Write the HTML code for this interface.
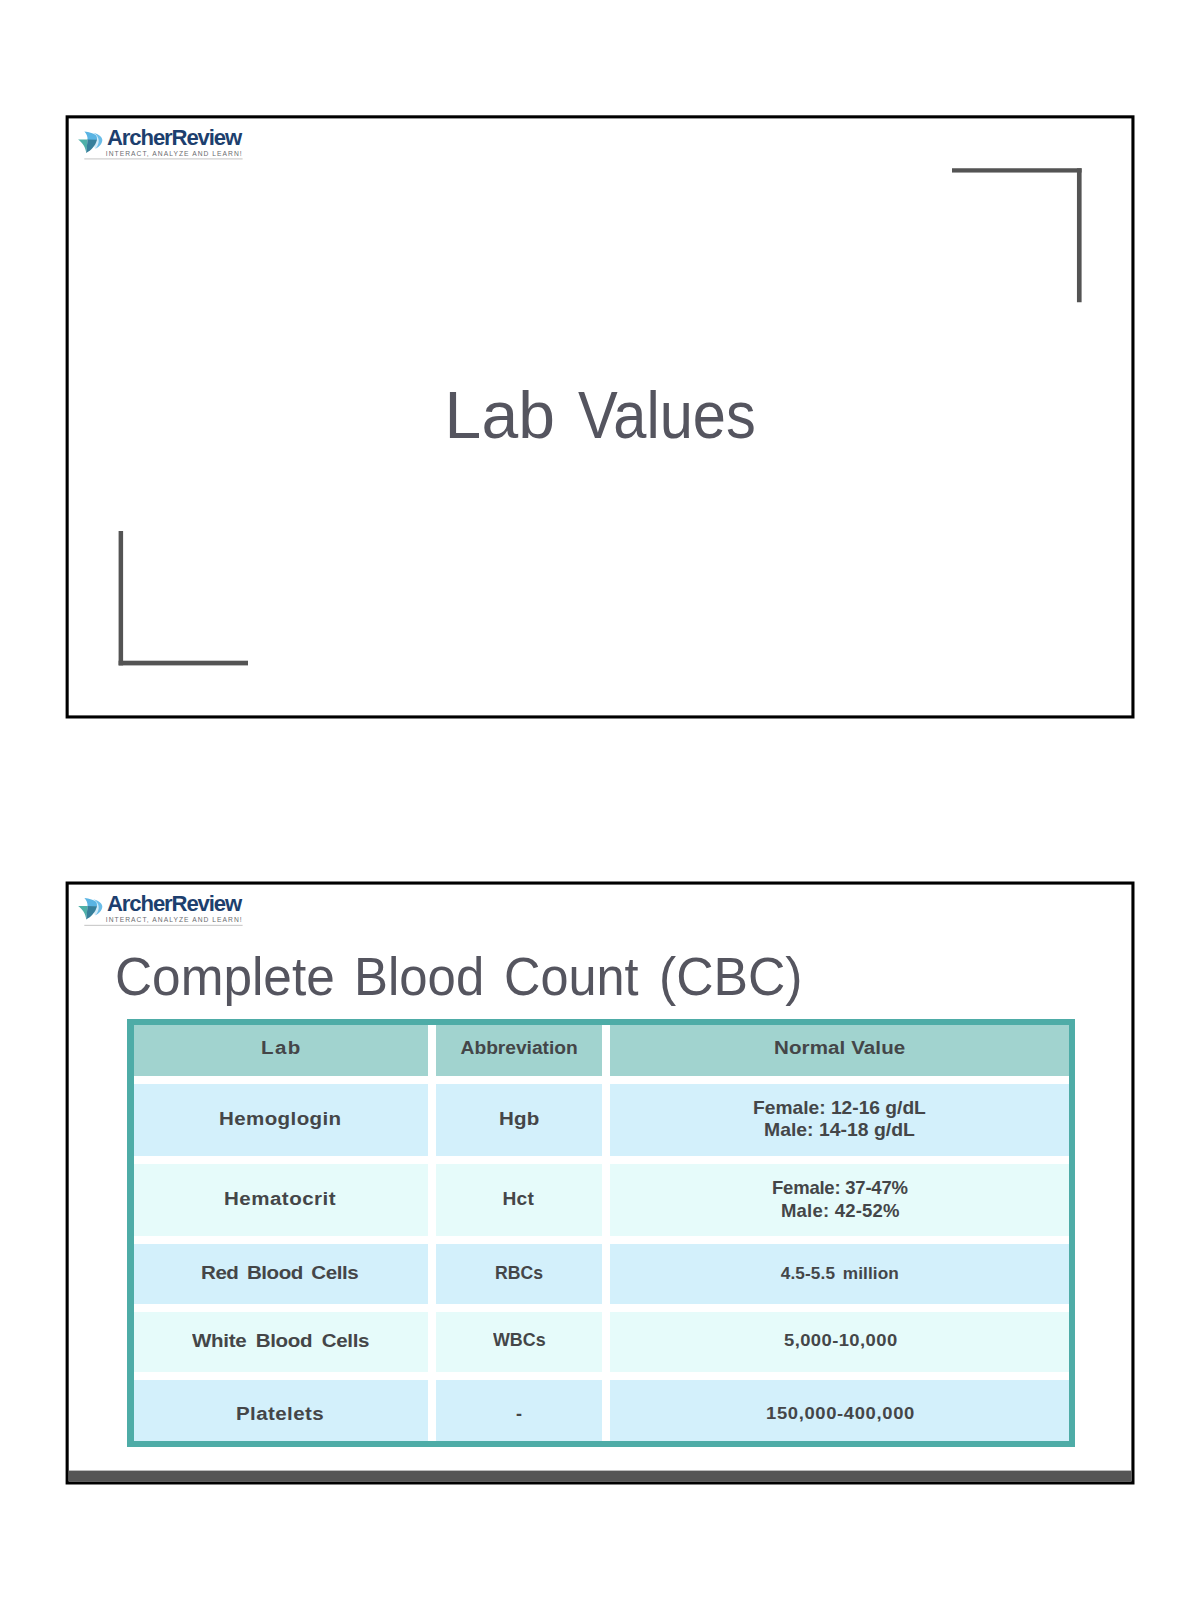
<!DOCTYPE html>
<html lang="en">
<head>
<meta charset="utf-8">
<title>Lab Values</title>
<style>
html,body{margin:0;padding:0;background:#fff}
body{width:1200px;height:1600px;position:relative;overflow:hidden;font-family:"Liberation Sans",sans-serif}
#sheet{position:absolute;left:0;top:0;width:1200px;height:1600px}
#art{position:absolute;left:0;top:0;width:1200px;height:1600px}
.g{margin:0;padding:0;font-size:0;line-height:0;font-weight:400}
.t{position:absolute;white-space:pre;line-height:1;margin:0;padding:0;display:block;transform-origin:0 0}
#tbl{position:absolute;left:127px;top:1019px;width:948px;height:428px;box-sizing:border-box;border:6px solid #4eaca7;border-left-width:7px;background:#fff;
display:grid;grid-template-columns:294px 166px 459px;grid-template-rows:51px 72px 72px 60px 60px 61px;gap:8px}
#tbl div{background:#d3f0fb}
#tbl div.h{background:#a1d3cf}
#tbl div.e{background:#e6fbfa}
#t1w0{left:444.60px;top:381.94px;font-size:65.99px;font-weight:400;color:#55555f;letter-spacing:0.103px;word-spacing:0.000px}
#t1w1{left:577.50px;top:381.94px;font-size:65.99px;font-weight:400;color:#55555f;letter-spacing:0.000px;word-spacing:0.000px;transform:scaleX(0.9032)}
#t2w0{left:115.06px;top:951.21px;font-size:52.91px;font-weight:400;color:#55555f;letter-spacing:0.000px;word-spacing:0.000px;transform:scaleX(0.9704)}
#t2w1{left:354.15px;top:951.21px;font-size:52.91px;font-weight:400;color:#55555f;letter-spacing:0.000px;word-spacing:0.000px;transform:scaleX(0.9621)}
#t2w2{left:504.09px;top:951.21px;font-size:52.91px;font-weight:400;color:#55555f;letter-spacing:0.000px;word-spacing:0.000px;transform:scaleX(0.9535)}
#t2w3{left:659.07px;top:951.21px;font-size:52.91px;font-weight:400;color:#55555f;letter-spacing:0.000px;word-spacing:0.000px;transform:scaleX(0.9765)}
#h1{left:126.63px;top:13.15px;font-size:19.20px;font-weight:700;color:#444648;letter-spacing:1.328px;word-spacing:0.000px;transform:scaleX(1.0700)}
#h2{left:326.60px;top:13.15px;font-size:19.20px;font-weight:700;color:#444648;letter-spacing:-0.014px;word-spacing:0.000px}
#h3{left:639.93px;top:12.95px;font-size:19.20px;font-weight:700;color:#444648;letter-spacing:0.097px;word-spacing:0.000px;transform:scaleX(1.0700)}
#a1{left:84.93px;top:84.25px;font-size:19.20px;font-weight:700;color:#444648;letter-spacing:0.366px;word-spacing:0.000px;transform:scaleX(1.0700)}
#a2{left:89.63px;top:164.05px;font-size:19.20px;font-weight:700;color:#444648;letter-spacing:0.444px;word-spacing:0.000px;transform:scaleX(1.0700)}
#a3{left:67.43px;top:238.45px;font-size:19.20px;font-weight:700;color:#444648;letter-spacing:-0.421px;word-spacing:3.030px;transform:scaleX(1.0700)}
#a4{left:58.00px;top:306.45px;font-size:19.20px;font-weight:700;color:#444648;letter-spacing:-0.303px;word-spacing:3.786px;transform:scaleX(1.0700)}
#a5{left:102.43px;top:378.75px;font-size:19.20px;font-weight:700;color:#444648;letter-spacing:0.367px;word-spacing:0.000px;transform:scaleX(1.0700)}
#b1{left:364.93px;top:84.05px;font-size:19.20px;font-weight:700;color:#444648;letter-spacing:0.155px;word-spacing:0.000px;transform:scaleX(1.0700)}
#b2{left:368.60px;top:164.05px;font-size:19.20px;font-weight:700;color:#444648;letter-spacing:0.136px;word-spacing:0.000px}
#b3{left:361.08px;top:237.55px;font-size:19.20px;font-weight:700;color:#444648;letter-spacing:0.000px;word-spacing:0.000px;transform:scaleX(0.9175)}
#b4{left:359.40px;top:305.15px;font-size:19.20px;font-weight:700;color:#444648;letter-spacing:0.000px;word-spacing:0.000px;transform:scaleX(0.9315)}
#b5{left:382.00px;top:379.76px;font-size:18.00px;font-weight:700;color:#444648;letter-spacing:0.000px;word-spacing:0.000px}
#c1a{left:619.46px;top:74.09px;font-size:18.50px;font-weight:700;color:#444648;letter-spacing:0.000px;word-spacing:0.000px;transform:scaleX(1.0378)}
#c1b{left:630.45px;top:95.64px;font-size:18.50px;font-weight:700;color:#444648;letter-spacing:0.000px;word-spacing:0.000px;transform:scaleX(1.0482)}
#c2a{left:638.00px;top:154.09px;font-size:18.50px;font-weight:700;color:#444648;letter-spacing:-0.221px;word-spacing:0.000px}
#c2b{left:647.00px;top:177.34px;font-size:18.50px;font-weight:700;color:#444648;letter-spacing:0.205px;word-spacing:0.000px}
#c3{left:646.80px;top:240.14px;font-size:17.20px;font-weight:700;color:#444648;letter-spacing:0.114px;word-spacing:2.738px}
#c4{left:649.70px;top:306.74px;font-size:17.20px;font-weight:700;color:#444648;letter-spacing:0.400px;word-spacing:0.000px;transform:scaleX(1.0700)}
#c5{left:631.63px;top:380.44px;font-size:17.20px;font-weight:700;color:#444648;letter-spacing:0.613px;word-spacing:0.000px;transform:scaleX(1.0700)}
#lg1{left:107.20px;top:125.58px;font-size:22.82px;font-weight:700;color:#1d3f6e;letter-spacing:-1.166px;word-spacing:0.000px;transform:scaleX(0.9700)}
#tg1{left:105.80px;top:150.94px;font-size:6.69px;font-weight:400;color:#6a6c70;letter-spacing:1.047px;word-spacing:0.000px}
#lg2{left:107.20px;top:892.08px;font-size:22.82px;font-weight:700;color:#1d3f6e;letter-spacing:-1.166px;word-spacing:0.000px;transform:scaleX(0.9700)}
#tg2{left:105.80px;top:917.44px;font-size:6.69px;font-weight:400;color:#6a6c70;letter-spacing:1.047px;word-spacing:0.000px}
</style>
</head>
<body>
<main id="sheet">
<svg id="art" viewBox="0 0 1200 1600">
<rect x="67.15" y="116.85" width="1065.8" height="600.1" fill="#fff" stroke="#000" stroke-width="3.1"/>
<rect x="952" y="168.25" width="129.6" height="4.3" fill="#545454"/>
<rect x="1076.95" y="168.25" width="4.65" height="134" fill="#545454"/>
<rect x="118.6" y="531" width="4.5" height="134.4" fill="#545454"/>
<rect x="118.6" y="660.7" width="129.4" height="4.7" fill="#545454"/>
<rect x="67.15" y="883.05" width="1065.8" height="599.9" fill="#fff" stroke="#000" stroke-width="3.1"/>
<rect x="68.7" y="1470.6" width="1062.6" height="10.8" fill="#555"/>
<rect x="84.3" y="158.3" width="158.3" height="1.2" fill="#cdcdcd"/>
<rect x="84.3" y="924.8" width="158.3" height="1.2" fill="#cdcdcd"/>
<g>
<path d="M93.3 132.9C96.8 134 98.6 137 98.9 140C99.2 143 97.6 146.4 95.2 148.9C94 148 93 140 93.3 132.9Z" fill="#d3ebf8"/>
<path d="M93.6 132.7C99.6 134.4 102.7 137.8 102.3 140.6C101.9 144.1 99.1 147.1 95.5 148.8C98 145.6 98.9 142.6 98.6 140C98.3 137 96.6 134.5 93.6 132.7Z" fill="#6bbde8"/>
<path d="M84.4 131.4C89 132 94.5 133.5 96.1 135.4C96.9 136.8 97.2 138.5 97 140L87.5 139.9C87.9 136.5 86.4 133.6 84.4 131.4Z" fill="#5ab4e3"/>
<path d="M78.1 139.4L87.7 139.6L86.3 152.9C85.6 147.2 82.6 142.6 78.1 139.4Z" fill="#4eb0a8"/>
<path d="M87.6 139.6L97 139.8C95.6 145.5 91.1 150.6 86.2 152.9Z" fill="#367f9b"/>
</g>
<g transform="translate(0 766.5)">
<path d="M93.3 132.9C96.8 134 98.6 137 98.9 140C99.2 143 97.6 146.4 95.2 148.9C94 148 93 140 93.3 132.9Z" fill="#d3ebf8"/>
<path d="M93.6 132.7C99.6 134.4 102.7 137.8 102.3 140.6C101.9 144.1 99.1 147.1 95.5 148.8C98 145.6 98.9 142.6 98.6 140C98.3 137 96.6 134.5 93.6 132.7Z" fill="#6bbde8"/>
<path d="M84.4 131.4C89 132 94.5 133.5 96.1 135.4C96.9 136.8 97.2 138.5 97 140L87.5 139.9C87.9 136.5 86.4 133.6 84.4 131.4Z" fill="#5ab4e3"/>
<path d="M78.1 139.4L87.7 139.6L86.3 152.9C85.6 147.2 82.6 142.6 78.1 139.4Z" fill="#4eb0a8"/>
<path d="M87.6 139.6L97 139.8C95.6 145.5 91.1 150.6 86.2 152.9Z" fill="#367f9b"/>
</g>
</svg>
<div class="logo" id="logo1"><span class="t" id="lg1">ArcherReview</span><span class="t" id="tg1">INTERACT, ANALYZE AND LEARN!</span></div>
<h1 class="g"><span class="t" id="t1w0">Lab</span> <span class="t" id="t1w1">Values</span></h1>
<div class="logo" id="logo2"><span class="t" id="lg2">ArcherReview</span><span class="t" id="tg2">INTERACT, ANALYZE AND LEARN!</span></div>
<h2 class="g"><span class="t" id="t2w0">Complete</span> <span class="t" id="t2w1">Blood</span> <span class="t" id="t2w2">Count</span> <span class="t" id="t2w3">(CBC)</span></h2>
<div id="tbl">
<div class="h"><span class="t" id="h1">Lab</span></div><div class="h"><span class="t" id="h2">Abbreviation</span></div><div class="h"><span class="t" id="h3">Normal Value</span></div>
<div><span class="t" id="a1">Hemoglogin</span></div><div><span class="t" id="b1">Hgb</span></div><div><span class="t" id="c1a">Female: 12-16 g/dL</span><span class="t" id="c1b">Male: 14-18 g/dL</span></div>
<div class="e"><span class="t" id="a2">Hematocrit</span></div><div class="e"><span class="t" id="b2">Hct</span></div><div class="e"><span class="t" id="c2a">Female: 37-47%</span><span class="t" id="c2b">Male: 42-52%</span></div>
<div><span class="t" id="a3">Red Blood Cells</span></div><div><span class="t" id="b3">RBCs</span></div><div><span class="t" id="c3">4.5-5.5 million</span></div>
<div class="e"><span class="t" id="a4">White Blood Cells</span></div><div class="e"><span class="t" id="b4">WBCs</span></div><div class="e"><span class="t" id="c4">5,000-10,000</span></div>
<div><span class="t" id="a5">Platelets</span></div><div><span class="t" id="b5">-</span></div><div><span class="t" id="c5">150,000-400,000</span></div>
</div>
</main>
</body>
</html>
